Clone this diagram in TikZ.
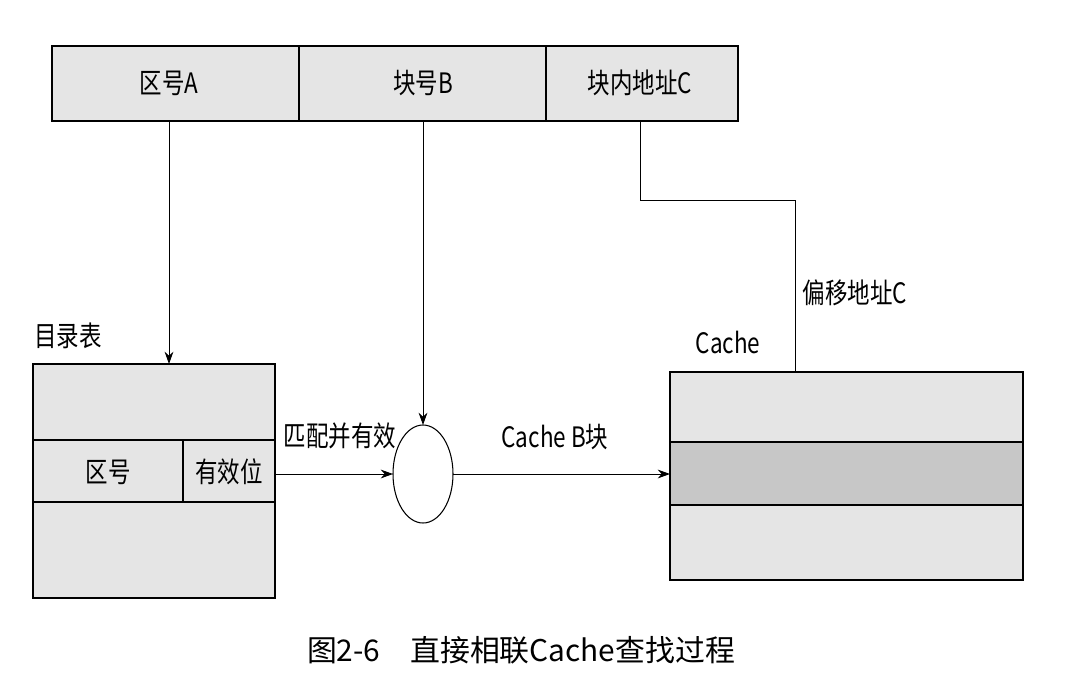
\documentclass[tikz,border=0pt]{standalone}
\usepackage{fontspec}
\setmainfont{Liberation Serif}
\newfontfamily\cjk{Noto Sans CJK SC}
\usetikzlibrary{arrows.meta}
\begin{document}
\begin{tikzpicture}[x=0.02cm,y=-0.02cm,
  lbl/.style={font=\cjk\fontsize{16}{18}\selectfont,xscale=0.8,inner sep=0pt},
  cell/.style={draw,fill=black!10,line width=0.6pt},
  arr/.style={-{Stealth[length=7pt,width=5pt]},line width=0.5pt}]
\useasboundingbox (0,0) rectangle (1091,686);
% top address bar
\draw[cell] (52,46) rectangle (738,121);
\draw[line width=0.6pt] (299,46) -- (299,121) (546,46) -- (546,121);
\node[lbl] (a) at (169,83) {区号A};
\node[lbl] (b) at (423,83) {块号B};
\node[lbl] (c) at (640,83) {块内地址C};
% directory
\draw[cell] (33,364) rectangle (275,598);
\draw[line width=0.6pt] (33,440) -- (275,440) (33,502) -- (275,502) (183,440) -- (183,502);
\node[lbl] at (108,472) {区号};
\node[lbl] (v) at (229,472) {有效位};
\node[lbl] at (68,336) {目录表};
\coordinate (dtop) at (169,364);
\coordinate (atop) at (169,121);
\draw[arr] (atop) -- (dtop);
% comparator
\draw[line width=0.6pt,fill=white] (423,474) ellipse [x radius=30, y radius=49];
\coordinate (ctop) at (423,425);
\coordinate (cl) at (393,474);
\coordinate (cr) at (453,474);
\coordinate (btop) at (423,121);
\draw[arr] (btop) -- (ctop);
\coordinate (dr) at (275,474);
\draw[arr] (dr) -- (cl);
\node[lbl] at (340,436) {匹配并有效};
% cache
\draw[cell] (670,372) rectangle (1023,580);
\draw[line width=0.6pt,fill=black!22] (670,442) rectangle (1023,505);
\coordinate (kl) at (670,474);
\draw[arr] (cr) -- (kl);
\node[lbl] at (555,437) {Cache B块};
\node[lbl] at (728,342) {Cache};
% offset
\coordinate (cbot) at (640,121);
\coordinate (ktop) at (795,372);
\draw[line width=0.5pt] (cbot) -- (640,200) -- (795,200) -- (ktop);
\node[lbl] at (855,293) {偏移地址C};
% caption
\node[font=\cjk\fontsize{17}{20}\selectfont,inner sep=0pt] at (521,650) {图2-6\quad 直接相联Cache查找过程};
\end{tikzpicture}
\end{document}
